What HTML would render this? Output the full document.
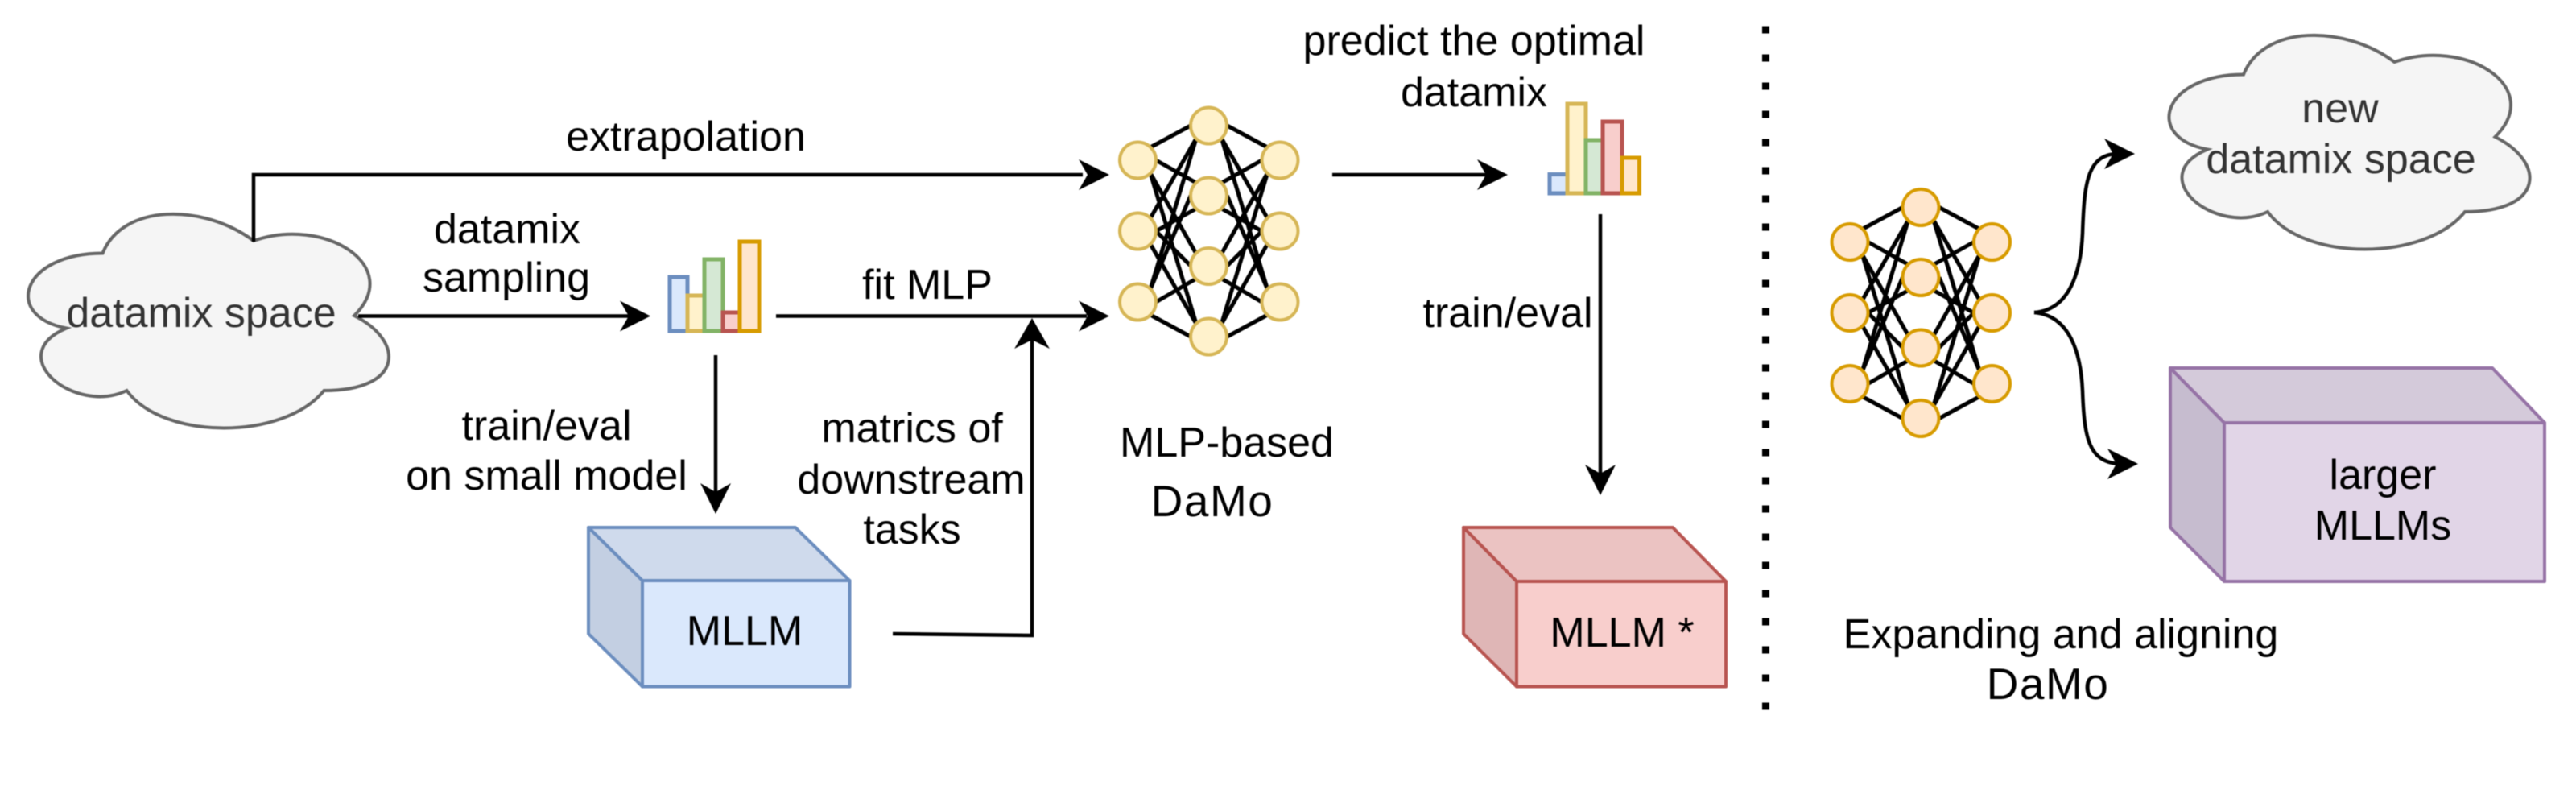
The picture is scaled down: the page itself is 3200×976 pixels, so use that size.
<!DOCTYPE html>
<html>
<head>
<meta charset="utf-8">
<style>
html,body{margin:0;padding:0;background:#fff;width:3200px;height:976px;overflow:hidden}
svg{display:block;filter:blur(0.4px)}
text{font-family:"Liberation Sans",Arial,sans-serif;font-size:52px;text-anchor:middle;fill:#000}
.g{fill:#333}
.d{font-size:55px;letter-spacing:1.5px}
.l{fill:none;stroke:#000;stroke-width:4.5}
</style>
</head>
<body>
<svg xmlns="http://www.w3.org/2000/svg" width="3200" height="976" viewBox="0 0 3200 976">
<defs>
<path id="ar" d="M0,0 L-38,-19 L-27,0 L-38,19 Z" fill="#000"/>
<path id="cloud" d="M125,77.5 C25,77.5 0,155 80,170.5 C0,204.6 90,279 155,248 C200,310 350,310 400,248 C500,248 500,186 437.5,155 C500,93 400,31 312.5,62 C250,15.5 150,15.5 125,77.5 Z" fill="#f5f5f5" stroke="#666" stroke-width="4"/>
<path id="half" d="M1429,183L1479,156M1436,199L1486,227M1429,215L1486,315M1429,215L1486,402M1429,271L1486,172M1436,287L1486,259M1436,287L1479,330M1429,303L1486,402M1429,359L1486,172M1429,359L1479,243M1436,375L1486,346M1429,391L1479,418" stroke="#000" stroke-width="5" fill="none"/>
<g id="net">
<use href="#half"/>
<use href="#half" transform="translate(3003.5,0) scale(-1,1)"/>
</g>
<g id="nodes">
<ellipse cx="1413.5" cy="199" rx="22.5" ry="22.5"/><ellipse cx="1413.5" cy="287" rx="22.5" ry="22.5"/><ellipse cx="1413.5" cy="375" rx="22.5" ry="22.5"/>
<ellipse cx="1501.5" cy="156" rx="22.5" ry="22.5"/><ellipse cx="1501.5" cy="243" rx="22.5" ry="22.5"/><ellipse cx="1501.5" cy="330.5" rx="22.5" ry="22.5"/><ellipse cx="1501.5" cy="418" rx="22.5" ry="22.5"/>
<ellipse cx="1590" cy="199" rx="22.5" ry="22.5"/><ellipse cx="1590" cy="287" rx="22.5" ry="22.5"/><ellipse cx="1590" cy="375" rx="22.5" ry="22.5"/>
</g>
</defs>

<!-- clouds -->
<use href="#cloud" transform="translate(2.5,237)"/>
<use href="#cloud" transform="translate(2662,15)"/>

<!-- connectors left -->
<path class="l" d="M315,300V217H1345"/>
<use href="#ar" transform="translate(1378,217)"/>
<path class="l" d="M445,392.5H785"/>
<use href="#ar" transform="translate(808,392.5)"/>
<path class="l" d="M964,392.5H1350"/>
<use href="#ar" transform="translate(1378,392.5)"/>
<path class="l" d="M889,441V620"/>
<use href="#ar" transform="translate(889,638) rotate(90)"/>
<path class="l" d="M1109,787L1282,789V420"/>
<use href="#ar" transform="translate(1282,395) rotate(-90) scale(1,1.15)"/>
<path class="l" d="M1655,217H1850"/>
<use href="#ar" transform="translate(1873,217)"/>
<path class="l" d="M1988,266V595"/>
<use href="#ar" transform="translate(1988,615) rotate(90)"/>

<!-- chart 1 -->
<g stroke-width="5">
<rect x="832" y="344" width="22" height="67" fill="#dae8fc" stroke="#6c8ebf"/>
<rect x="854" y="367" width="21" height="44" fill="#fff2cc" stroke="#d6b656"/>
<rect x="875" y="322" width="23" height="89" fill="#d5e8d4" stroke="#82b366"/>
<rect x="898" y="388" width="21" height="23" fill="#f8cecc" stroke="#b85450"/>
<rect x="919" y="300" width="24" height="111" fill="#ffe6cc" stroke="#d79b00"/>
</g>
<!-- chart 2 -->
<g stroke-width="5">
<rect x="1925" y="216.5" width="22" height="23.5" fill="#dae8fc" stroke="#6c8ebf"/>
<rect x="1947" y="129" width="23" height="111" fill="#fff2cc" stroke="#d6b656"/>
<rect x="1970" y="174" width="21" height="66" fill="#d5e8d4" stroke="#82b366"/>
<rect x="1991" y="151" width="24" height="89" fill="#f8cecc" stroke="#b85450"/>
<rect x="2015" y="196" width="21.5" height="44" fill="#ffe6cc" stroke="#d79b00"/>
</g>

<!-- cube 1 -->
<g stroke="#6c8ebf" stroke-width="4" stroke-linejoin="round">
<path d="M798,721H1055.5V852.5H798Z" fill="#dae8fc"/>
<path d="M731,655H988L1055.5,721H798Z" fill="#cfdaec"/>
<path d="M731,655L798,721V852.5L731,787Z" fill="#c3cfe2"/>
</g>
<!-- cube 2 -->
<g stroke="#b85450" stroke-width="4" stroke-linejoin="round">
<path d="M1884,722H2144V852.5H1884Z" fill="#f8cecc"/>
<path d="M1818,655H2078L2144,722H1884Z" fill="#ebc3c2"/>
<path d="M1818,655L1884,722V852.5L1818,787Z" fill="#dfb6b6"/>
</g>
<!-- cube 3 -->
<g stroke="#9673a6" stroke-width="4" stroke-linejoin="round">
<path d="M2763,525H3161V722H2763Z" fill="#e1d5e7"/>
<path d="M2696,457H3096L3161,525H2763Z" fill="#d4cada"/>
<path d="M2696,457L2763,525V722L2696,655Z" fill="#c6bccf"/>
</g>

<!-- NN 1 -->
<use href="#net"/>
<use href="#nodes" fill="#fff2cc" stroke="#d6b656" stroke-width="4"/>
<!-- NN 2 -->
<use href="#net" transform="translate(884.5,101.5)"/>
<use href="#nodes" transform="translate(884.5,101.5)" fill="#ffe6cc" stroke="#d79b00" stroke-width="4"/>

<!-- curly connectors -->
<path class="l" d="M2527,388C2572,385 2585,335 2587,290C2589,230 2592,192 2630,191"/>
<path class="l" d="M2527,388C2572,392 2585,440 2587,485C2589,545 2595,575 2635,576"/>
<use href="#ar" transform="translate(2652,191)"/>
<use href="#ar" transform="translate(2656,576)"/>

<!-- dotted divider -->
<path d="M2193.5,32.5V884" stroke="#000" stroke-width="9" stroke-dasharray="9 26" fill="none"/>

<!-- labels -->
<text x="852" y="187">extrapolation</text>
<text x="630" y="302">datamix</text>
<text x="629" y="362">sampling</text>
<text class="g" x="250" y="406">datamix space</text>
<text x="1152" y="371">fit MLP</text>
<text x="679" y="546">train/eval</text>
<text x="679" y="608">on small model</text>
<text x="1133" y="549">matrics of</text>
<text x="1132" y="613">downstream</text>
<text x="1133" y="675">tasks</text>
<text x="925" y="801">MLLM</text>
<text x="1831" y="68">predict the optimal</text>
<text x="1831" y="132">datamix</text>
<text x="1873" y="406">train/eval</text>
<text x="1524" y="567">MLP-based</text>
<text class="d" x="1506" y="641">DaMo</text>
<text x="2015" y="803">MLLM *</text>
<text class="g" x="2907" y="152">new</text>
<text class="g" x="2908" y="215">datamix space</text>
<text x="2960" y="607">larger</text>
<text x="2960" y="670">MLLMs</text>
<text x="2560" y="805">Expanding and aligning</text>
<text class="d" x="2544" y="868">DaMo</text>
</svg>
</body>
</html>
